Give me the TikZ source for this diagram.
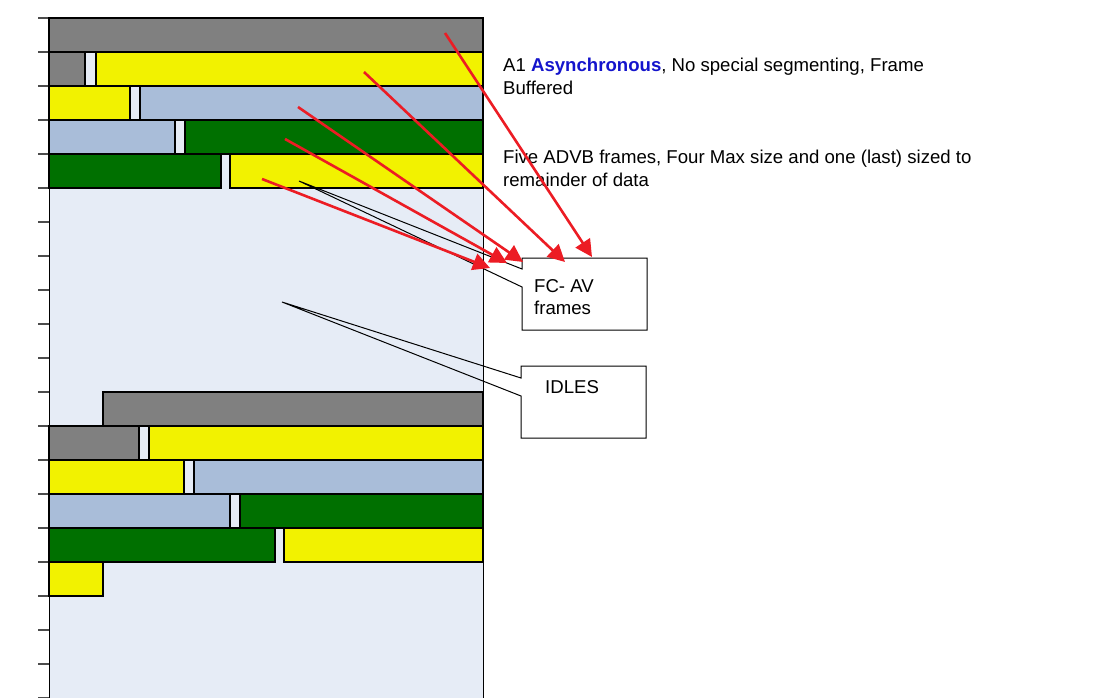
\documentclass[tikz,border=0pt]{standalone}
\usepackage{fontspec}
\setmainfont{Liberation Sans}
\usetikzlibrary{arrows.meta,calc}
\definecolor{panelblue}{HTML}{E6ECF6}
\definecolor{framegray}{HTML}{808080}
\definecolor{frameyellow}{HTML}{F2F200}
\definecolor{frameblue}{HTML}{A9BDD9}
\definecolor{framegreen}{HTML}{007000}
\definecolor{arrowred}{HTML}{EC1C24}
\definecolor{asyncblue}{HTML}{1414CC}

\begin{document}
\begin{tikzpicture}[x=1pt,y=-1pt,
    bar/.style={draw=black,line width=1.3pt},
    tickmark/.style={draw=black!70,line width=1.5pt},
    calloutbox/.style={fill=white,minimum width=125pt,minimum height=72pt,inner sep=0pt,outer sep=0pt,anchor=north west},
    pointer/.style={draw=black,line width=1pt,line join=miter},
    redarrow/.style={arrowred,line width=2.6pt,-{Triangle[length=17pt,width=17pt]}},
    note/.style={font=\fontsize{18.6}{22.5}\selectfont,align=left,anchor=north west,inner sep=0pt}]
    \useasboundingbox (0,0) rectangle (1114,698);
    \fill[panelblue] (49,18) rectangle (483,698);
    \foreach \k in {0,...,20} {
        \draw[tickmark] (38,18+34*\k) -- (49,18+34*\k);
    }
    % frames, top burst
    \foreach \xa/\xb/\ya/\col in {49/483/18/framegray,
            49/85/52/framegray, 96/483/52/frameyellow,
            49/130/86/frameyellow, 140/483/86/frameblue,
            49/175/120/frameblue, 185/483/120/framegreen,
            49/221/154/framegreen, 230/483/154/frameyellow} {
        \draw[bar,fill=\col] (\xa,\ya) rectangle (\xb,\ya+34);
    }
    % frames, second burst
    \foreach \xa/\xb/\ya/\col in {103/483/392/framegray,
            49/139/426/framegray, 149/483/426/frameyellow,
            49/184/460/frameyellow, 194/483/460/frameblue,
            49/230/494/frameblue, 240/483/494/framegreen,
            49/275/528/framegreen, 284/483/528/frameyellow,
            49/103/562/frameyellow} {
        \draw[bar,fill=\col] (\xa,\ya) rectangle (\xb,\ya+34);
    }
    \draw[line width=1pt] (49,18) -- (49,698);
    \draw[line width=0.6pt] (483,18) -- (483,698);

    \node[note] (asynctext) at (503,58) {A1 \textbf{\textcolor{asyncblue}{Asynchronous}}, No special segmenting, Frame\\Buffered};
    \node[note] (advbtext) at (503,150) {Five ADVB frames, Four Max size and one (last) sized to\\remainder of data};

    \node[calloutbox] (fcav) at (522,258) {};
    \node[calloutbox] (idles) at (521,366) {};
    \coordinate (fcavtip) at (299,181);
    \coordinate (idlestip) at (282,302);
    \draw[pointer] ($(fcav.north west)+(0,11)$) -- (fcavtip) -- ($(fcav.north west)+(0,29)$)
        -- (fcav.south west) -- (fcav.south east) -- (fcav.north east) -- (fcav.north west) -- cycle;
    \draw[pointer] ($(idles.north west)+(0,12)$) -- (idlestip) -- ($(idles.north west)+(0,30)$)
        -- (idles.south west) -- (idles.south east) -- (idles.north east) -- (idles.north west) -- cycle;
    \node[note] (fcavtext) at (534,279) {FC- AV\\frames};
    \node[note] (idlestext) at (545,380) {IDLES};

    \coordinate (a1) at (445,33);  \coordinate (b1) at (592,257);
    \coordinate (a2) at (364,72);  \coordinate (b2) at (565,262);
    \coordinate (a3) at (298,107); \coordinate (b3) at (523,262);
    \coordinate (a4) at (285,139); \coordinate (b4) at (507,263);
    \coordinate (a5) at (262,179); \coordinate (b5) at (490,268);
    \foreach \n in {1,...,5} {
        \draw[redarrow] (a\n) -- (b\n);
    }
\end{tikzpicture}
\end{document}
